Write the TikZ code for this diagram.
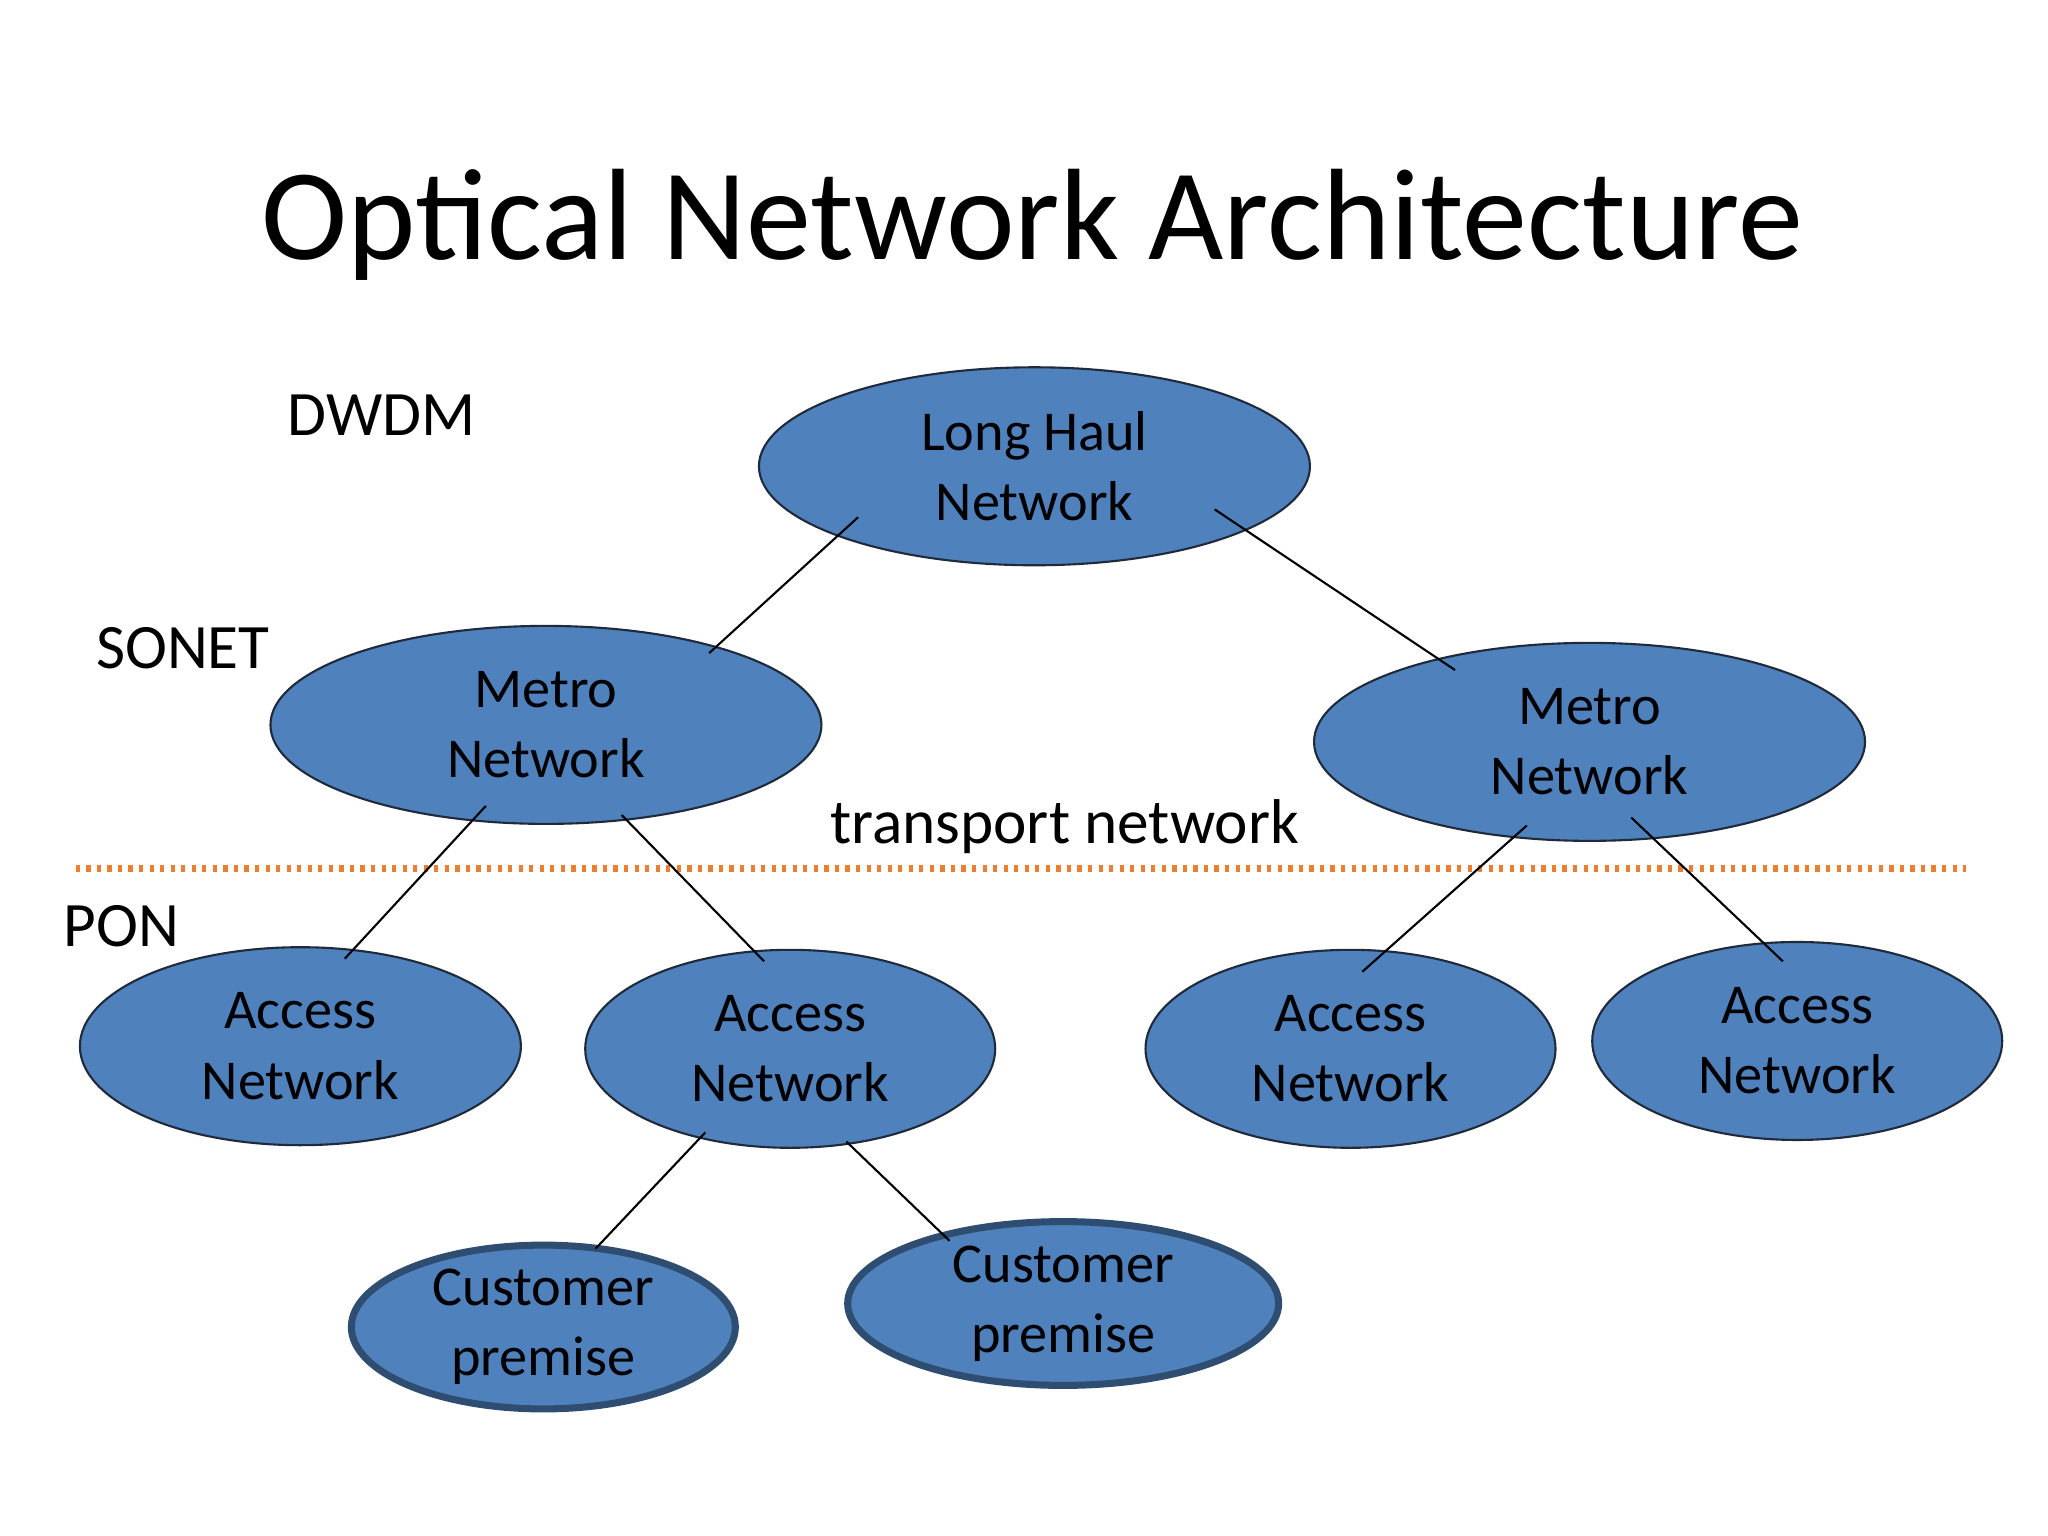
\documentclass[tikz,border=0pt]{standalone}
\usepackage{fontspec}
\setmainfont{Carlito}
\usetikzlibrary{shapes.geometric, positioning}
\definecolor{netblue}{HTML}{4F81BD}
\definecolor{netedge}{HTML}{1F2A3A}
\definecolor{dotorange}{HTML}{ED7D31}
\begin{document}
\begin{tikzpicture}[x=0.01306cm, y=-0.01306cm,
  every node/.style={align=center, font=\fontsize{16}{20}\selectfont},
  net/.style={ellipse, fill=netblue, draw=netedge, line width=0.6pt, inner sep=0pt},
  cust/.style={net, draw=netblue!60!black, line width=2pt},
  tier/.style={font=\fontsize{18}{22}\selectfont}]
  \useasboundingbox (0,0) rectangle (1568,1176);
  \node[font=\fontsize{37}{44}\selectfont] (title) at (790,172) {Optical Network Architecture};
  \node[net, minimum width=422\pgflinewidth*0+5.51cm, minimum height=1.98cm] (lh) at (792,357) {Long Haul\\Network};
  \node[net, minimum width=5.51cm, minimum height=1.98cm] (ml) at (418,555) {Metro\\Network};
  \node[net, minimum width=5.51cm, minimum height=1.98cm] (mr) at (1217,568) {Metro\\Network};
  \node[net, minimum width=4.41cm, minimum height=1.98cm] (a1) at (230,801) {Access\\Network};
  \node[net, minimum width=4.10cm, minimum height=1.98cm] (a2) at (605,803) {Access\\Network};
  \node[net, minimum width=4.10cm, minimum height=1.98cm] (a3) at (1034,803) {Access\\Network};
  \node[net, minimum width=4.10cm, minimum height=1.98cm] (a4) at (1376,797) {Access\\Network};
  \node[cust, minimum width=3.84cm, minimum height=1.59cm] (c1) at (416,1016) {Customer\\premise};
  \node[cust, minimum width=4.31cm, minimum height=1.44cm] (c2) at (814,998) {Customer\\premise};
  % tier labels
  \node[tier] (dwdm) at (292,318) {DWDM};
  \node[tier] (sonet) at (140,496) {SONET};
  \node[tier] (pon) at (93,709) {PON};
  \node[tier] (trans) at (815,633) {transport network};
  \coordinate (dl) at (58,665);
  \coordinate (dr) at (1505,665);
  \draw[dotorange, line width=2.2pt, dash pattern=on 1.2pt off 1.8pt] (dl) -- (dr);
  % links
  \coordinate (p1) at (657,396); \coordinate (q1) at (543,500);
  \coordinate (p2) at (930,390); \coordinate (q2) at (1114,513);
  \coordinate (p3) at (372,617); \coordinate (q3) at (264,734);
  \coordinate (p4) at (476,624); \coordinate (q4) at (585,736);
  \coordinate (p5) at (1169,632); \coordinate (q5) at (1043,744);
  \coordinate (p6) at (1249,626); \coordinate (q6) at (1365,736);
  \coordinate (p7) at (540,867); \coordinate (q7) at (456,956);
  \coordinate (p8) at (648,874); \coordinate (q8) at (727,950);
  \foreach \s/\t in {p1/q1, p2/q2, p3/q3, p4/q4, p5/q5, p6/q6, p7/q7, p8/q8}
    \draw[black, line width=0.6pt] (\s) -- (\t);
\end{tikzpicture}
\end{document}
